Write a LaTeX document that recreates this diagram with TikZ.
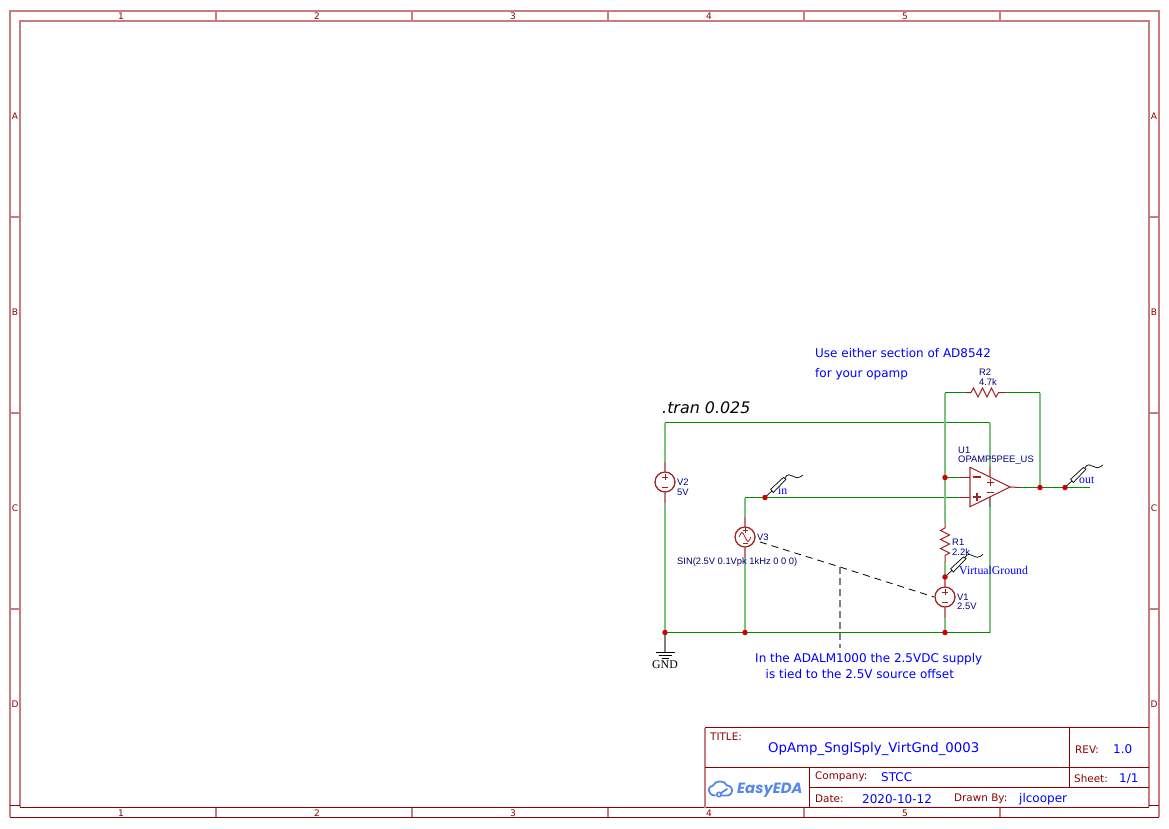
\documentclass[tikz,border=0pt]{standalone}
\usepackage{fontspec}
\setmainfont{DejaVu Sans}
\newfontfamily\partfont{Liberation Sans}
\newfontfamily\netfont{Liberation Serif}
\newfontfamily\logofont{Poppins}
\usetikzlibrary{positioning}
\definecolor{framered}{RGB}{140,0,0}
\definecolor{framepale}{RGB}{200,125,125}
\definecolor{partred}{RGB}{163,32,32}
\definecolor{leadred}{RGB}{195,120,120}
\definecolor{wiregreen}{RGB}{0,140,0}
\definecolor{wirepale}{RGB}{125,195,125}
\definecolor{partblue}{RGB}{0,0,128}
\definecolor{noteblue}{RGB}{0,0,255}
\definecolor{logoblue}{RGB}{85,136,238}
\tikzset{
  frameline/.style={draw=framered,line width=1pt},
  frameedge/.style={draw=framepale,line width=2pt},
  frametxt/.style={font=\fontsize{9}{9}\selectfont,text=framered,inner sep=0pt},
  wire/.style={draw=wiregreen,line width=1pt},
  wirev/.style={draw=wirepale,line width=2pt},
  leadv/.style={draw=leadred,line width=2pt},
  partline/.style={draw=partred,line width=1pt},
  source/.style={circle,draw=partred,line width=1pt,minimum size=20pt,inner sep=0pt},
  partlabel/.style={font=\partfont\fontsize{9.4}{9.4}\selectfont,text=partblue,inner sep=0pt,anchor=west},
  note/.style={font=\fontsize{12}{12}\selectfont,text=noteblue,inner sep=0pt,anchor=west},
  netlabel/.style={font=\netfont\fontsize{11.8}{11.8}\selectfont,text=noteblue,inner sep=0pt,anchor=west},
  blocklabel/.style={font=\fontsize{10.4}{10.4}\selectfont,text=framered,inner sep=0pt,anchor=west},
  junction/.style={circle,fill=red!80!black,inner sep=0pt,minimum size=5.5pt},
  probe/.style={draw=black,line width=.7pt},
}
\begin{document}
\begin{tikzpicture}[x=1pt,y=-1pt]
    \useasboundingbox[fill=white] (0,0) rectangle (1169,828);

    % sheet frame
    \draw[frameedge] (10,817) -- (10,11) -- (1159,11) -- (1159,817);
    \draw[frameedge] (20,807) -- (20,21) -- (1149,21) -- (1149,807);
    \draw[frameline] (10,817.5) -- (1159,817.5);
    \draw[frameline] (20,807.5) -- (1149,807.5);
    \foreach \x in {216,412,608,804,1000} {
        \draw[frameedge] (\x,11) -- (\x,21);
        \draw[frameedge] (\x,808) -- (\x,817);
    }
    \foreach \y in {217,413,609} {
        \draw[frameedge] (10,\y) -- (20,\y);
        \draw[frameedge] (1149,\y) -- (1159,\y);
    }
    \draw[frameline] (10,805.5) -- (20,805.5);
    \draw[frameline] (1149,805.5) -- (1159,805.5);
    \foreach \x/\t in {121/1,317/2,513/3,709/4,905/5} {
        \node[frametxt] (top\t) at (\x,16) {\t};
        \node[frametxt] (bot\t) at (\x,813) {\t};
    }
    \foreach \y/\t in {116/A,312/B,508/C,704/D} {
        \node[frametxt] (left\t) at (15,\y) {\t};
        \node[frametxt] (right\t) at (1154,\y) {\t};
    }

    % title block
    \draw[frameedge] (705,808) -- (705,728);
    \draw[frameline] (705,727.5) -- (1149,727.5);
    \draw[frameline] (705,767) -- (1149,767);
    \draw[frameline] (809,787) -- (1149,787);
    \draw[frameline] (809.5,767) -- (809.5,808);
    \draw[frameline] (1069.5,728) -- (1069.5,787);
    \node[blocklabel] (titlekey) at (710,736.5) {TITLE:};
    \node[note,font=\fontsize{13.3}{13.3}\selectfont] (titleval) at (768,749) {OpAmp\_SnglSply\_VirtGnd\_0003};
    \node[blocklabel] (revkey) at (1075,750) {REV:};
    \node[note] (revval) at (1113,749.5) {1.0};
    \node[blocklabel] (sheetkey) at (1074,778.5) {Sheet:};
    \node[note] (sheetval) at (1119,778.5) {1/1};
    \node[blocklabel] (compkey) at (815,777) {Company:};
    \node[note] (compval) at (881,777) {STCC};
    \node[blocklabel] (datekey) at (815,799) {Date:};
    \node[note] (dateval) at (862,799) {2020-10-12};
    \node[blocklabel] (drawnkey) at (954,799) {Drawn By:};
    \node[note] (drawnval) at (1019,799) {jlcooper};

    % logo
    \draw[logoblue,line width=1.8pt,line cap=round] (715,795.5) .. controls (707,795) and (707,786) .. (713,785.5)
        .. controls (715,780) and (725,780) .. (727,785.5) .. controls (734,786) and (734,795) .. (727,795.5) -- (722,795.5) (721,793) -- (727,789);
    \draw[logoblue,line width=1.6pt] (719,794.5) circle (2.2pt);
    \node[font=\logofont\bfseries\itshape\fontsize{14.8}{14.8}\selectfont,text=logoblue,inner sep=0pt,anchor=west] (logo) at (737,790) {EasyEDA};

    % points of the circuit
    \coordinate (topl) at (665,422.5);
    \coordinate (topr) at (990,422.5);
    \coordinate (botl) at (665,632.5);
    \coordinate (botr) at (990,632.5);
    \coordinate (fbl) at (945,392.5);
    \coordinate (fbr) at (1040,392.5);
    \coordinate (vgnd) at (945,577);
    \coordinate (ninv) at (945,477.5);
    \coordinate (vin) at (745,497.5);
    \coordinate (probein) at (765,497.5);
    \coordinate (vout) at (1040,487.5);
    \coordinate (probeout) at (1065,487.5);
    \coordinate (outend) at (1090,487.5);
    \coordinate (botv3) at (745,632.5);
    \coordinate (botv1) at (945,632.5);
    \coordinate (gndend) at (665,652);

    % sources
    \node[source] (V2) at (665,482) {};
    \node[source] (V3) at (745,537) {};
    \node[source] (V1) at (945,597) {};
    \foreach \src in {V1,V2} {
        \draw[partline,line width=.8pt] ([yshift=5pt]\src.center) ++(-3,0) -- ++(6,0) ++(-3,-3) -- ++(0,6);
        \draw[partline,line width=.8pt] ([yshift=-5pt]\src.center) ++(-3,0) -- ++(6,0);
    }
    \draw[partline,line width=.7pt] ([yshift=6.5pt]V3.center) ++(-2.5,0) -- ++(5,0) ++(-2.5,-2.5) -- ++(0,5);
    \draw[partline,line width=.7pt] ([yshift=-6.5pt]V3.center) ++(-2.5,0) -- ++(5,0);
    \draw[partline,line width=.8pt] ([xshift=-6pt]V3.center) .. controls +(3,-6) and +(-3,-6) .. (V3.center)
        .. controls +(3,6) and +(-3,6) .. ([xshift=6pt]V3.center);
    \draw[leadv] (V2.north) -- ++(0,-10) coordinate (V2t);
    \draw[leadv] (V2.south) -- ++(0,10) coordinate (V2b);
    \draw[leadv] (V3.north) -- ++(0,-10) coordinate (V3t);
    \draw[leadv] (V3.south) -- ++(0,10) coordinate (V3b);
    \draw[leadv] (V1.north) -- (vgnd);
    \draw[leadv] (V1.south) -- ++(0,10) coordinate (V1b);
    % redrawn so the leads do not cover the rings
    \draw[partline] (V2.center) circle (10pt) (V3.center) circle (10pt) (V1.center) circle (10pt);

    % wires
    \draw[wirev] (V2t) -- (topl);
    \draw[wire] (topl) -- (topr);
    \draw[wirev] (topr) -- (990,467);
    \draw[wirev] (990,507) -- (botr);
    \draw[wire] (botr) -- (botl);
    \draw[wirev] (V2b) -- (botl);
    \draw[wirev] (V3t) -- (vin);
    \draw[wire] (vin) -- (960,497.5);
    \draw[wirev] (V3b) -- (botv3);
    \draw[wirev] (V1b) -- (botv1);
    \draw[wirev] (945,562) -- (vgnd);
    \draw[wirev] (945,523) -- (fbl);
    \draw[wire] (fbl) -- (966,392.5);
    \draw[wire] (1005,392.5) -- (fbr);
    \draw[wirev] (fbr) -- (vout);
    \draw[wire] (ninv) -- (960,477.5);
    \draw[wire] (1020,487.5) -- (outend);

    % op amp
    \coordinate (oa1) at (969.5,467);
    \coordinate (oa2) at (969.5,507);
    \coordinate (oa3) at (1010,487);
    \draw[leadv] (990,467) -- (990,477);
    \draw[draw=gray,line width=2pt] (990,497) -- (990,507);
    \draw[leadv] (969.5,467) -- (969.5,507);
    \draw[partline] (oa1) -- (oa3) -- (oa2);
    \draw[partline] (960,477.5) -- (969.5,477.5);
    \draw[partline] (960,497.5) -- (969.5,497.5);
    \draw[partline] (oa3) -- (1020,487.5);
    \draw[partline,line width=1.6pt] (973,477) -- (981,477);
    \draw[partline,line width=1.6pt] (973,497) -- (981,497) (977,493) -- (977,501);
    \draw[partline,line width=.7pt] (986.5,482) -- (993.5,482) (990,478.5) -- (990,485.5);
    \draw[partline,line width=.7pt] (986.5,492.5) -- (993.5,492.5);

    % resistors
    \draw[partline] (966,392.5) -- (971,392.5) -- ++(2.5,-4.5) -- ++(4.5,9) -- ++(4.5,-9) -- ++(4.5,9) -- ++(4.5,-9) -- ++(4.5,9) -- ++(2.5,-4.5) -- (1005,392.5);
    \draw[partline] (945,523) -- (945,528) -- ++(-4.5,2.5) -- ++(9,4.5) -- ++(-9,4.5) -- ++(9,4.5) -- ++(-9,4.5) -- ++(9,4.5) -- ++(-4.5,2.5) -- (945,562);

    % ground
    \draw[draw=gray,line width=2pt] (botl) -- (gndend);
    \draw[draw=black,line width=.8pt] (655.5,652) -- (674.5,652) (658.5,655) -- (671.5,655) (661.5,658) -- (668.5,658);
    \node[font=\netfont\fontsize{11.8}{11.8}\selectfont,inner sep=0pt] (gnd) at (665,665) {GND};

    % dashed ties
    \coordinate (tiemid) at (840,567);
    \draw[draw=black,line width=.8pt,dash pattern=on 7pt off 5pt] (760,542) -- (tiemid) -- (934,597);
    \draw[draw=gray,line width=1.8pt,dash pattern=on 7pt off 4pt] (tiemid) -- (840,648);

    % probes
    \foreach \tip in {probein,probeout,vgnd} {
        \draw[probe] (\tip) -- ++(7,-6.7) -- ++(1.3,1.7) -- ++(12.7,-13.3) -- ++(-2.7,-1.7) -- ++(-12.6,11.7) -- ++(1.3,1.6)
            ++(13,-13) .. controls +(1.5,-2) and +(-2,0) .. ++(4,-3) .. controls +(3,0) and +(-3,0) .. ++(8,3)
            .. controls +(3,0) and +(-1,1) .. ++(6,-3);
    }

    % junction dots
    \foreach \dot in {botl,botv3,botv1,vgnd,ninv,probein,vout,probeout} {
        \node[junction] at (\dot) {};
    }

    % labels
    \node[partlabel] (V2name) at (677,482.5) {V2};
    \node[partlabel] (V2val) at (677,492) {5V};
    \node[partlabel] (V3name) at (757,537.5) {V3};
    \node[partlabel,font=\partfont\fontsize{9.35}{9.35}\selectfont] (V3val) at (677,562) {SIN(2.5V 0.1Vpk 1kHz 0 0 0)};
    \node[partlabel] (V1name) at (957,597.5) {V1};
    \node[partlabel] (V1val) at (957,606.5) {2.5V};
    \node[partlabel] (R1name) at (952,542.7) {R1};
    \node[partlabel] (R1val) at (952,552.2) {2.2k};
    \node[partlabel,anchor=center] (R2name) at (985,372.2) {R2};
    \node[partlabel,anchor=center] (R2val) at (988,381.7) {4.7k};
    \node[partlabel] (U1name) at (958,450.2) {U1};
    \node[partlabel] (U1val) at (958,459.7) {OPAMP5PEE\_US};
    \node[netlabel] (inname) at (778,490.5) {in};
    \node[netlabel] (outname) at (1079,480.5) {out};
    \node[netlabel] (vgname) at (959,570.2) {VirtualGround};
    \node[note,font=\itshape\fontsize{15.9}{15.9}\selectfont,text=black] (tran) at (662,408) {.tran 0.025};
    \node[note] (note1) at (815,353) {Use either section of AD8542};
    \node[note] (note2) at (815,374) {for your opamp};
    \node[note] (note3) at (755,659) {In the ADALM1000 the 2.5VDC supply};
    \node[note] (note4) at (765.5,674) {is tied to the 2.5V source offset};
\end{tikzpicture}
\end{document}
